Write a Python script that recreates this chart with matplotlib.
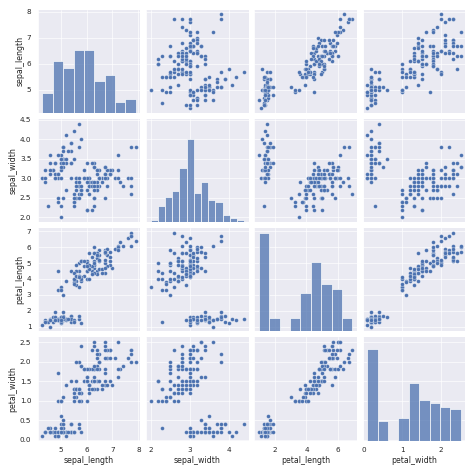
import pandas as pd
import seaborn as sns
import matplotlib
matplotlib.use("Agg")
import matplotlib.pyplot as plt

# iris measurements: 50 setosa, 50 versicolor, 50 virginica
sepal_length = [
    5.1, 4.9, 4.7, 4.6, 5.0, 5.4, 4.6, 5.0, 4.4, 4.9, 5.4, 4.8, 4.8, 4.3, 5.8, 5.7, 5.4, 5.1, 5.7, 5.1,
    5.4, 5.1, 4.6, 5.1, 4.8, 5.0, 5.0, 5.2, 5.2, 4.7, 4.8, 5.4, 5.2, 5.5, 4.9, 5.0, 5.5, 4.9, 4.4, 5.1,
    5.0, 4.5, 4.4, 5.0, 5.1, 4.8, 5.1, 4.6, 5.3, 5.0,
    7.0, 6.4, 6.9, 5.5, 6.5, 5.7, 6.3, 4.9, 6.6, 5.2, 5.0, 5.9, 6.0, 6.1, 5.6, 6.7, 5.6, 5.8, 6.2, 5.6,
    5.9, 6.1, 6.3, 6.1, 6.4, 6.6, 6.8, 6.7, 6.0, 5.7, 5.5, 5.5, 5.8, 6.0, 5.4, 6.0, 6.7, 6.3, 5.6, 5.5,
    5.5, 6.1, 5.8, 5.0, 5.6, 5.7, 5.7, 6.2, 5.1, 5.7,
    6.3, 5.8, 7.1, 6.3, 6.5, 7.6, 4.9, 7.3, 6.7, 7.2, 6.5, 6.4, 6.8, 5.7, 5.8, 6.4, 6.5, 7.7, 7.7, 6.0,
    6.9, 5.6, 7.7, 6.3, 6.7, 7.2, 6.2, 6.1, 6.4, 7.2, 7.4, 7.9, 6.4, 6.3, 6.1, 7.7, 6.3, 6.4, 6.0, 6.9,
    6.7, 6.9, 5.8, 6.8, 6.7, 6.7, 6.3, 6.5, 6.2, 5.9,
]
sepal_width = [
    3.5, 3.0, 3.2, 3.1, 3.6, 3.9, 3.4, 3.4, 2.9, 3.1, 3.7, 3.4, 3.0, 3.0, 4.0, 4.4, 3.9, 3.5, 3.8, 3.8,
    3.4, 3.7, 3.6, 3.3, 3.4, 3.0, 3.4, 3.5, 3.4, 3.2, 3.1, 3.4, 4.1, 4.2, 3.1, 3.2, 3.5, 3.6, 3.0, 3.4,
    3.5, 2.3, 3.2, 3.5, 3.8, 3.0, 3.8, 3.2, 3.7, 3.3,
    3.2, 3.2, 3.1, 2.3, 2.8, 2.8, 3.3, 2.4, 2.9, 2.7, 2.0, 3.0, 2.2, 2.9, 2.9, 3.1, 3.0, 2.7, 2.2, 2.5,
    3.2, 2.8, 2.5, 2.8, 2.9, 3.0, 2.8, 3.0, 2.9, 2.6, 2.4, 2.4, 2.7, 2.7, 3.0, 3.4, 3.1, 2.3, 3.0, 2.5,
    2.6, 3.0, 2.6, 2.3, 2.7, 3.0, 2.9, 2.9, 2.5, 2.8,
    3.3, 2.7, 3.0, 2.9, 3.0, 3.0, 2.5, 2.9, 2.5, 3.6, 3.2, 2.7, 3.0, 2.5, 2.8, 3.2, 3.0, 3.8, 2.6, 2.2,
    3.2, 2.8, 2.8, 2.7, 3.3, 3.2, 2.8, 3.0, 2.8, 3.0, 2.8, 3.8, 2.8, 2.8, 2.6, 3.0, 3.4, 3.1, 3.0, 3.1,
    3.1, 3.1, 2.7, 3.2, 3.3, 3.0, 2.5, 3.0, 3.4, 3.0,
]
petal_length = [
    1.4, 1.4, 1.3, 1.5, 1.4, 1.7, 1.4, 1.5, 1.4, 1.5, 1.5, 1.6, 1.4, 1.1, 1.2, 1.5, 1.3, 1.4, 1.7, 1.5,
    1.7, 1.5, 1.0, 1.7, 1.9, 1.6, 1.6, 1.5, 1.4, 1.6, 1.6, 1.5, 1.5, 1.4, 1.5, 1.2, 1.3, 1.4, 1.3, 1.5,
    1.3, 1.3, 1.3, 1.6, 1.9, 1.4, 1.6, 1.4, 1.5, 1.4,
    4.7, 4.5, 4.9, 4.0, 4.6, 4.5, 4.7, 3.3, 4.6, 3.9, 3.5, 4.2, 4.0, 4.7, 3.6, 4.4, 4.5, 4.1, 4.5, 3.9,
    4.8, 4.0, 4.9, 4.7, 4.3, 4.4, 4.8, 5.0, 4.5, 3.5, 3.8, 3.7, 3.9, 5.1, 4.5, 4.5, 4.7, 4.4, 4.1, 4.0,
    4.4, 4.6, 4.0, 3.3, 4.2, 4.2, 4.2, 4.3, 3.0, 4.1,
    6.0, 5.1, 5.9, 5.6, 5.8, 6.6, 4.5, 6.3, 5.8, 6.1, 5.1, 5.3, 5.5, 5.0, 5.1, 5.3, 5.5, 6.7, 6.9, 5.0,
    5.7, 4.9, 6.7, 4.9, 5.7, 6.0, 4.8, 4.9, 5.6, 5.8, 6.1, 6.4, 5.6, 5.1, 5.6, 6.1, 5.6, 5.5, 4.8, 5.4,
    5.6, 5.1, 5.1, 5.9, 5.7, 5.2, 5.0, 5.2, 5.4, 5.1,
]
petal_width = [
    0.2, 0.2, 0.2, 0.2, 0.2, 0.4, 0.3, 0.2, 0.2, 0.1, 0.2, 0.2, 0.1, 0.1, 0.2, 0.4, 0.4, 0.3, 0.3, 0.3,
    0.2, 0.4, 0.2, 0.5, 0.2, 0.2, 0.4, 0.2, 0.2, 0.2, 0.2, 0.4, 0.1, 0.2, 0.2, 0.2, 0.2, 0.1, 0.2, 0.2,
    0.3, 0.3, 0.2, 0.6, 0.4, 0.3, 0.2, 0.2, 0.2, 0.2,
    1.4, 1.5, 1.5, 1.3, 1.5, 1.3, 1.6, 1.0, 1.3, 1.4, 1.0, 1.5, 1.0, 1.4, 1.3, 1.4, 1.5, 1.0, 1.5, 1.1,
    1.8, 1.3, 1.5, 1.2, 1.3, 1.4, 1.4, 1.7, 1.5, 1.0, 1.1, 1.0, 1.2, 1.6, 1.5, 1.6, 1.5, 1.3, 1.3, 1.3,
    1.2, 1.4, 1.2, 1.0, 1.3, 1.2, 1.3, 1.3, 1.1, 1.3,
    2.5, 1.9, 2.1, 1.8, 2.2, 2.1, 1.7, 1.8, 1.8, 2.5, 2.0, 1.9, 2.1, 2.0, 2.4, 2.3, 1.8, 2.2, 2.3, 1.5,
    2.3, 2.0, 2.0, 1.8, 2.1, 1.8, 1.8, 1.8, 2.1, 1.6, 1.9, 2.0, 2.2, 1.5, 1.4, 2.3, 2.4, 1.8, 1.8, 2.1,
    2.4, 2.3, 1.9, 2.3, 2.5, 2.3, 1.9, 2.0, 2.3, 1.8,
]

iris = pd.DataFrame({
    "sepal_length": sepal_length,
    "sepal_width": sepal_width,
    "petal_length": petal_length,
    "petal_width": petal_width,
})

sns.set_theme()
g = sns.pairplot(iris, height=2.5)
g.figure.set_size_inches(10, 10)
g.figure.savefig("out.png", dpi=47.4)
